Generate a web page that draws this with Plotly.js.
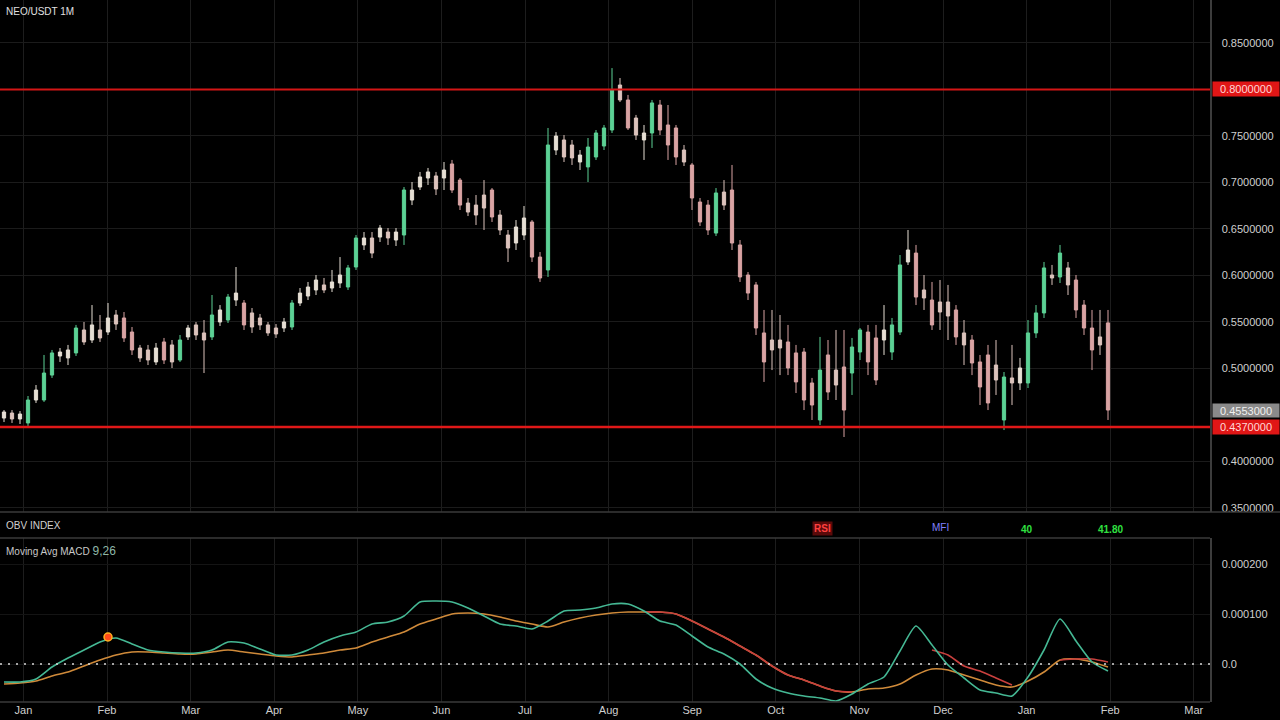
<!DOCTYPE html>
<html>
<head>
<meta charset="utf-8">
<script src="https://cdn.plot.ly/plotly-3.0.1.min.js"></script>
<style>html,body{margin:0;padding:0;background:#000;}#chart{width:1280px;height:720px;}</style>
</head>
<body>
<div id="chart"></div>
<script>
// ---------- DATA ----------
const chartTitle = "NEO/USDT 1M";
const monthLabels = ["Jan","Feb","Mar","Apr","May","Jun","Jul","Aug","Sep","Oct","Nov","Dec","Jan","Feb","Mar"];

const open = [0.4467,0.4521,0.4457,0.4414,0.4661,0.4661,0.4929,0.5134,0.5113,0.5167,
0.5414,0.5306,0.5414,0.5392,0.5575,0.5543,0.5392,0.5220,0.5199,0.5070,
0.5285,0.5253,0.5091,0.5339,0.5468,0.5382,0.5339,0.5500,0.5521,0.5736,
0.5704,0.5597,0.5543,0.5468,0.5435,0.5435,0.5446,0.5704,0.5779,0.5844,
0.5898,0.5865,0.5919,0.5876,0.6091,0.6328,0.6403,0.6413,0.6467,0.6381,
0.6435,0.6811,0.6951,0.7048,0.7070,0.7048,0.7199,0.7026,0.6779,0.6757,
0.6865,0.6919,0.6650,0.6435,0.6349,0.6435,0.6575,0.6198,0.6059,0.7349,
0.7457,0.7403,0.7220,0.7167,0.7274,0.7392,0.7564,0.8048,0.7887,0.7693,
0.7457,0.7532,0.7833,0.7618,0.7586,0.7349,0.7188,0.6790,0.6757,0.6456,
0.6897,0.6919,0.6328,0.6005,0.5898,0.5382,0.5306,0.5306,0.5285,0.5167,
0.5177,0.4844,0.4446,0.5145,0.4983,0.5016,0.4951,0.5177,0.5392,0.5328,
0.5306,0.5177,0.5392,0.6145,0.6241,0.5844,0.5736,0.5715,0.5715,0.5629,
0.5382,0.5306,0.5070,0.5145,0.5037,0.4446,0.4898,0.4844,0.4844,0.5382,
0.5597,0.6005,0.5984,0.6081,0.5951,0.5682,0.5435,0.5339,0.5490];

const high = [0.4553,0.4553,0.4542,0.4704,0.4822,0.5145,0.5199,0.5220,0.5253,0.5468,
0.5500,0.5682,0.5575,0.5704,0.5629,0.5607,0.5446,0.5253,0.5253,0.5274,
0.5328,0.5306,0.5360,0.5468,0.5500,0.5521,0.5790,0.5682,0.5801,0.6091,
0.5736,0.5650,0.5586,0.5500,0.5478,0.5543,0.5736,0.5865,0.5930,0.6005,
0.5973,0.6059,0.6198,0.6113,0.6435,0.6467,0.6467,0.6543,0.6510,0.6510,
0.6951,0.7005,0.7113,0.7156,0.7113,0.7220,0.7242,0.7048,0.6833,0.6865,
0.7026,0.6940,0.6704,0.6489,0.6596,0.6747,0.6596,0.6252,0.7586,0.7542,
0.7510,0.7457,0.7349,0.7478,0.7564,0.7618,0.8230,0.8123,0.7941,0.7726,
0.7618,0.7887,0.7887,0.7833,0.7618,0.7403,0.7209,0.6833,0.6811,0.6940,
0.7026,0.7188,0.6381,0.6037,0.5930,0.5629,0.5629,0.5575,0.5468,0.5253,
0.5220,0.4898,0.5339,0.5306,0.5414,0.5414,0.5328,0.5435,0.5468,0.5468,
0.5682,0.5543,0.6220,0.6489,0.6328,0.6005,0.5930,0.5951,0.5898,0.5682,
0.5521,0.5360,0.5145,0.5253,0.5306,0.4962,0.5253,0.5113,0.5521,0.5682,
0.6145,0.6113,0.6328,0.6145,0.6005,0.5736,0.5629,0.5629,0.5629];

const low = [0.4424,0.4414,0.4403,0.4382,0.4629,0.4640,0.4898,0.5070,0.5037,0.5134,
0.5253,0.5274,0.5285,0.5360,0.5414,0.5285,0.5145,0.5070,0.5037,0.5037,
0.5048,0.5005,0.5070,0.5306,0.5306,0.4951,0.5306,0.5457,0.5489,0.5672,
0.5414,0.5382,0.5414,0.5350,0.5328,0.5392,0.5414,0.5672,0.5736,0.5790,
0.5811,0.5822,0.5865,0.5844,0.6059,0.6274,0.6187,0.6360,0.6328,0.6317,
0.6328,0.6757,0.6919,0.6973,0.6865,0.6919,0.6887,0.6704,0.6639,0.6543,
0.6489,0.6575,0.6435,0.6145,0.6274,0.6381,0.6145,0.5930,0.5984,0.7295,
0.7220,0.7188,0.7134,0.7005,0.7242,0.7349,0.7532,0.7865,0.7564,0.7457,
0.7242,0.7371,0.7510,0.7242,0.7188,0.7177,0.6704,0.6532,0.6435,0.6424,
0.6704,0.6274,0.5930,0.5736,0.5360,0.4855,0.4983,0.4929,0.4929,0.4736,
0.4553,0.4446,0.4392,0.4661,0.4661,0.4263,0.4715,0.5091,0.4929,0.4822,
0.5145,0.5091,0.5360,0.6113,0.5682,0.5629,0.5414,0.5414,0.5306,0.5253,
0.5037,0.4929,0.4607,0.4553,0.4715,0.4338,0.4607,0.4768,0.4790,0.5328,
0.5543,0.5898,0.5919,0.5790,0.5543,0.5360,0.4983,0.5145,0.4446];

const close = [0.4532,0.4457,0.4510,0.4661,0.4768,0.4951,0.5167,0.5177,0.5199,0.5435,
0.5285,0.5468,0.5328,0.5543,0.5478,0.5328,0.5199,0.5113,0.5091,0.5220,
0.5091,0.5070,0.5306,0.5435,0.5360,0.5306,0.5575,0.5629,0.5768,0.5811,
0.5468,0.5446,0.5468,0.5382,0.5371,0.5500,0.5704,0.5811,0.5876,0.5951,
0.5844,0.5930,0.6005,0.6081,0.6403,0.6403,0.6241,0.6510,0.6403,0.6467,
0.6919,0.6919,0.7059,0.7113,0.6930,0.7134,0.6919,0.6757,0.6682,0.6650,
0.6725,0.6629,0.6489,0.6295,0.6521,0.6618,0.6198,0.5973,0.7403,0.7499,
0.7274,0.7264,0.7295,0.7381,0.7532,0.7586,0.7994,0.7887,0.7586,0.7510,
0.7532,0.7855,0.7564,0.7403,0.7274,0.7220,0.6833,0.6575,0.6489,0.6887,
0.6757,0.6349,0.5984,0.5811,0.5435,0.5070,0.5199,0.5220,0.5005,0.4855,
0.4661,0.4607,0.4983,0.4747,0.4822,0.4553,0.5231,0.5414,0.5070,0.4876,
0.5414,0.5468,0.6113,0.6274,0.5768,0.5758,0.5468,0.5607,0.5564,0.5339,
0.5253,0.5059,0.4801,0.4629,0.4876,0.4908,0.4844,0.5005,0.5382,0.5597,
0.6081,0.5973,0.6241,0.5898,0.5629,0.5435,0.5199,0.5253,0.4553];

// horizontal levels: resistance, support
const resistanceLevel = 0.8000;
const supportLevel = 0.4370;

// lower panel oscillator (sampled every 2nd bar)
const fastLine = [-0.000036,-0.000036,-0.000030,-0.000006,0.000012,0.000028,0.000044,0.000052,0.000040,0.000028,
0.000024,0.000022,0.000022,0.000028,0.000044,0.000042,0.000030,0.000018,0.000018,0.000028,
0.000044,0.000056,0.000064,0.000080,0.000084,0.000096,0.000124,0.000126,0.000124,0.000112,
0.000096,0.000080,0.000076,0.000070,0.000086,0.000106,0.000108,0.000112,0.000120,0.000120,
0.000106,0.000086,0.000078,0.000056,0.000034,0.000020,0.000000,-0.000030,-0.000048,-0.000058,
-0.000064,-0.000068,-0.000074,-0.000060,-0.000040,-0.000026,0.000026,0.000076,0.000038,-0.000002,
-0.000028,-0.000052,-0.000058,-0.000064,-0.000026,0.000028,0.000090,0.000046,0.000004,-0.000014];

const slowLine = [-0.000040,-0.000038,-0.000034,-0.000024,-0.000016,-0.000004,0.000008,0.000018,0.000024,0.000024,
0.000022,0.000020,0.000020,0.000024,0.000028,0.000024,0.000020,0.000016,0.000014,0.000018,
0.000022,0.000028,0.000032,0.000044,0.000054,0.000064,0.000080,0.000090,0.000100,0.000102,
0.000100,0.000094,0.000086,0.000080,0.000074,0.000084,0.000092,0.000098,0.000102,0.000104,
0.000104,0.000104,0.000100,0.000086,0.000070,0.000054,0.000036,0.000018,-0.000004,-0.000022,
-0.000032,-0.000044,-0.000054,-0.000056,-0.000050,-0.000048,-0.000040,-0.000022,-0.000010,-0.000012,
-0.000022,-0.000032,-0.000042,-0.000046,-0.000034,-0.000016,0.000008,0.000010,0.000004,-0.000006];

const trendLine = [null,null,null,null,null,null,null,null,null,null,
null,null,null,null,null,null,null,null,null,null,
null,null,null,null,null,null,null,null,null,null,
null,null,null,null,null,null,null,null,null,null,
0.000104,0.000104,0.000100,0.000086,0.000070,0.000054,0.000036,0.000018,-0.000004,-0.000022,
-0.000032,-0.000044,-0.000054,-0.000056,null,null,null,null,0.000028,0.000018,
-0.000004,-0.000014,-0.000028,-0.000042,null,null,0.000008,0.000010,0.000010,0.000004];

const crossBar = [13];
const crossValue = [0.000054];

const priceTickStep = 0.05;
const oscTickVals = [0, 0.0001, 0.0002];
const oscTickText = ["0.0", "0.000100", "0.000200"];
const indicatorTags = ["RSI", "MFI", "40", "41.80"];
const panelLabel = "OBV INDEX";
const oscTitle = "Moving Avg MACD";
const oscParams = "9,26";

// ---------- BUILD ----------
const FONT = "Liberation Sans, Arial, sans-serif";
const priceLabelFmt = v => v.toFixed(7);
const barIdx = open.map((_, i) => i);
const oscIdx = fastLine.map((_, k) => k * 2);

function subset(pred) {
  const o = {x: [], open: [], high: [], low: [], close: []};
  barIdx.forEach(i => {
    if (pred(i)) {
      o.x.push(i); o.open.push(open[i]); o.high.push(high[i]);
      o.low.push(low[i]); o.close.push(close[i]);
    }
  });
  return o;
}
const isStrong = i => Math.abs(close[i] - open[i]) >= 0.019;
const strong = subset(isStrong);
const weak = subset(i => !isStrong(i));

const traces = [
  Object.assign({type: 'candlestick', xaxis: 'x', yaxis: 'y', whiskerwidth: 0,
    increasing: {line: {color: '#e6dfd4', width: 1}, fillcolor: '#e6dfd4'},
    decreasing: {line: {color: '#dcc3bc', width: 1}, fillcolor: '#dcc3bc'},
    hoverinfo: 'skip', showlegend: false}, weak),
  Object.assign({type: 'candlestick', xaxis: 'x', yaxis: 'y', whiskerwidth: 0,
    increasing: {line: {color: '#5cd195', width: 1}, fillcolor: '#5cd195'},
    decreasing: {line: {color: '#d9a3a3', width: 1}, fillcolor: '#d9a3a3'},
    hoverinfo: 'skip', showlegend: false}, strong),
  {type: 'scatter', mode: 'lines', x: oscIdx, y: slowLine, xaxis: 'x', yaxis: 'y2',
    line: {color: '#cf8a3a', width: 1.6, shape: 'spline', smoothing: 0.6}, hoverinfo: 'skip'},
  {type: 'scatter', mode: 'lines', x: oscIdx, y: trendLine, xaxis: 'x', yaxis: 'y2', connectgaps: false,
    line: {color: '#c9403e', width: 1.6, shape: 'spline', smoothing: 0.6}, hoverinfo: 'skip'},
  {type: 'scatter', mode: 'lines', x: oscIdx, y: fastLine, xaxis: 'x', yaxis: 'y2',
    line: {color: '#45b894', width: 1.6, shape: 'spline', smoothing: 0.6}, hoverinfo: 'skip'},
  {type: 'scatter', mode: 'markers', x: crossBar, y: crossValue, xaxis: 'x', yaxis: 'y2',
    marker: {color: '#ff4a1a', size: 8, line: {color: '#ffb020', width: 1.5}}, hoverinfo: 'skip'}
];

const yRange = [0.3457, 0.8962];
const lastClose = close[close.length - 1];
const tagged = [resistanceLevel, lastClose, supportLevel];
const priceTicks = [];
for (let v = Math.ceil(yRange[0] / priceTickStep) * priceTickStep; v <= yRange[1]; v += priceTickStep) {
  const r = Math.round(v * 1e6) / 1e6;
  if (tagged.every(t => Math.abs(t - r) > 0.014)) priceTicks.push(r);
}
const tickPositions = monthLabels.map((_, k) => 2.425 + 10.45 * k);

const layout = {
  width: 1280, height: 720,
  paper_bgcolor: '#000', plot_bgcolor: '#000',
  margin: {l: 0, r: 70, t: 0, b: 18},
  showlegend: false,
  boxgap: 0.42,
  font: {family: FONT, color: '#cfcfcf', size: 11},
  xaxis: {
    domain: [0, 1], range: [-0.5, 150.75], anchor: 'y2',
    tickvals: tickPositions, ticktext: monthLabels, ticks: '',
    showgrid: true, gridcolor: '#1d1d1d', gridwidth: 1,
    zeroline: false, showline: false,
    tickfont: {family: FONT, size: 11, color: '#cfcfcf'},
    rangeslider: {visible: false}, fixedrange: true
  },
  yaxis: {
    domain: [0.2707, 1], range: yRange, side: 'right',
    tickvals: priceTicks, ticktext: priceTicks.map(priceLabelFmt), ticks: '', ticklabelstandoff: 8,
    showgrid: true, gridcolor: '#1b1b1b', zeroline: false,
    showline: true, linecolor: '#3c3c3c', linewidth: 1.5,
    tickfont: {family: FONT, size: 11, color: '#cfcfcf'}, fixedrange: true
  },
  yaxis2: {
    domain: [0, 0.2336], range: [-0.000076, 0.000252], side: 'right',
    tickvals: oscTickVals, ticktext: oscTickText, ticks: '', ticklabelstandoff: 8,
    showgrid: true, gridcolor: '#141414', zeroline: false,
    showline: true, linecolor: '#3c3c3c', linewidth: 1.5,
    tickfont: {family: FONT, size: 11, color: '#cfcfcf'}, fixedrange: true
  },
  shapes: [
    {type: 'line', xref: 'paper', yref: 'paper', x0: 0, x1: 1.058, y0: 0.2707, y1: 0.2707, line: {color: '#3a3a3a', width: 1.5}},
    {type: 'line', xref: 'paper', yref: 'paper', x0: 0, x1: 1.0, y0: 0.2336, y1: 0.2336, line: {color: '#3a3a3a', width: 1.5}},
    {type: 'line', xref: 'paper', yref: 'paper', x0: 0, x1: 1.0, y0: 0, y1: 0, line: {color: '#3a3a3a', width: 1.5}},
    {type: 'line', xref: 'paper', yref: 'y', x0: 0, x1: 1, y0: resistanceLevel, y1: resistanceLevel, line: {color: '#d41616', width: 2}},
    {type: 'line', xref: 'paper', yref: 'y', x0: 0, x1: 1, y0: supportLevel, y1: supportLevel, line: {color: '#e01818', width: 2.5}},
    {type: 'line', xref: 'paper', yref: 'y2', x0: 0, x1: 1, y0: 0, y1: 0, line: {color: '#d8d8d8', width: 1.5, dash: '2px,6px'}}
  ],
  annotations: [
    {xref: 'paper', yref: 'paper', x: 0.003, y: 1 - 11 / 702, xanchor: 'left', yanchor: 'middle', showarrow: false,
      text: chartTitle, font: {family: FONT, size: 10, color: '#e0e0e0'}},
    {xref: 'paper', yref: 'paper', x: 0.003, y: 1 - 525 / 702, xanchor: 'left', yanchor: 'middle', showarrow: false,
      text: panelLabel, font: {family: FONT, size: 10, color: '#d0d0d0'}},
    {xref: 'paper', yref: 'paper', x: 0.003, y: 1 - 551 / 702, xanchor: 'left', yanchor: 'middle', showarrow: false,
      text: oscTitle + ' <span style="font-size:12px;color:#8fb8a8">' + oscParams + '</span>', font: {family: FONT, size: 10, color: '#c8c8c8'}},
    {xref: 'paper', yref: 'paper', x: 822 / 1210, y: 1 - 528 / 702, xanchor: 'center', yanchor: 'middle', showarrow: false,
      text: '<b>' + indicatorTags[0] + '</b>', bgcolor: '#5a0a0a', font: {family: FONT, size: 10, color: '#ff4040'}},
    {xref: 'paper', yref: 'paper', x: 940 / 1210, y: 1 - 527 / 702, xanchor: 'center', yanchor: 'middle', showarrow: false,
      text: indicatorTags[1], font: {family: FONT, size: 10, color: '#8080ff'}},
    {xref: 'paper', yref: 'paper', x: 1027 / 1210, y: 1 - 529 / 702, xanchor: 'center', yanchor: 'middle', showarrow: false,
      text: '<b>' + indicatorTags[2] + '</b>', font: {family: FONT, size: 10, color: '#30e040'}},
    {xref: 'paper', yref: 'paper', x: 1110 / 1210, y: 1 - 529 / 702, xanchor: 'center', yanchor: 'middle', showarrow: false,
      text: '<b>' + indicatorTags[3] + '</b>', font: {family: FONT, size: 10, color: '#30e040'}},
    {xref: 'paper', yref: 'y', x: 1, xshift: 2, y: resistanceLevel, xanchor: 'left', yanchor: 'middle', showarrow: false,
      text: priceLabelFmt(resistanceLevel), bgcolor: '#e01616', width: 66, height: 14, borderpad: 0,
      font: {family: FONT, size: 11, color: '#ffd8d8'}},
    {xref: 'paper', yref: 'y', x: 1, xshift: 2, y: lastClose, xanchor: 'left', yanchor: 'middle', showarrow: false,
      text: priceLabelFmt(lastClose), bgcolor: '#8a8a8a', width: 66, height: 13, borderpad: 0,
      font: {family: FONT, size: 11, color: '#f0f0f0'}},
    {xref: 'paper', yref: 'y', x: 1, xshift: 2, y: supportLevel, xanchor: 'left', yanchor: 'middle', showarrow: false,
      text: priceLabelFmt(supportLevel), bgcolor: '#e01616', width: 66, height: 14, borderpad: 0,
      font: {family: FONT, size: 11, color: '#ffd8d8'}}
  ]
};

Plotly.newPlot('chart', traces, layout, {staticPlot: true, displayModeBar: false});
</script>
</body>
</html>
